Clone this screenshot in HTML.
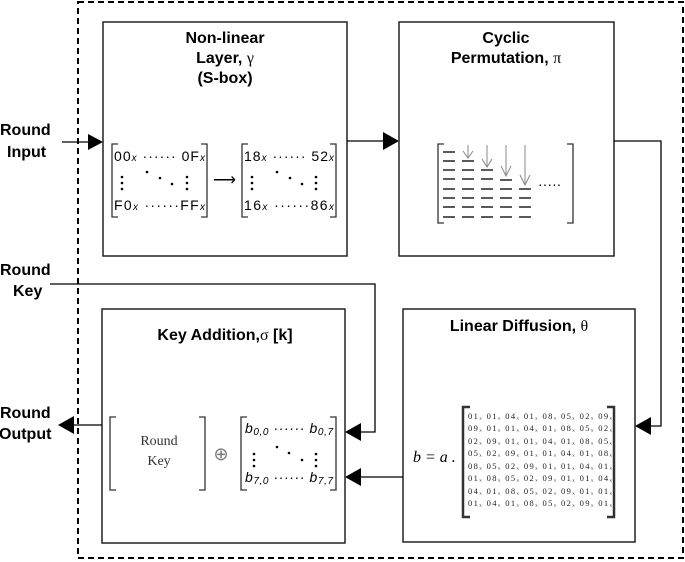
<!DOCTYPE html>
<html><head><style>body{margin:0;background:#fff}svg{display:block}
.t{font-family:"Liberation Sans",sans-serif;font-weight:bold;font-size:16px}
.s{font-family:"Liberation Serif",serif}
.m{font-family:"Liberation Sans",sans-serif;font-size:14px}
</style></head><body>
<svg width="685" height="562" viewBox="0 0 685 562" xmlns="http://www.w3.org/2000/svg">
<rect x="78" y="2" width="605" height="556" fill="none" stroke="#000" stroke-width="2" stroke-dasharray="6,4"/>
<g fill="none" stroke="#222" stroke-width="1.5">
<rect x="103" y="22" width="244" height="234"/>
<rect x="399" y="22" width="215" height="234"/>
<rect x="102" y="309" width="243" height="234"/>
<rect x="403" y="309" width="232" height="233"/>
</g>
<g stroke="#000" stroke-width="1.3" fill="none">
<line x1="62" y1="142" x2="90" y2="142"/>
<line x1="347" y1="141" x2="385" y2="141"/>
<polyline points="614,141 661,141 661,426 650,426"/>
<polyline points="50,284 375,284 375,432 360,432"/>
<line x1="403" y1="477" x2="360" y2="477"/>
<line x1="102" y1="425" x2="72" y2="425"/>
</g>
<g fill="#000">
<polygon points="88,134 103,142 88,150"/>
<polygon points="383,132 399,141 383,150"/>
<polygon points="651,417 635,426 651,435"/>
<polygon points="361,423 345,432 361,441"/>
<polygon points="361,468 345,477 361,486"/>
<polygon points="74,416 58,425 74,434"/>
</g>
<g class="t" text-anchor="middle">
<text x="225" y="43">Non-linear</text>
<text x="225" y="63">Layer, <tspan class="s" font-weight="normal">γ</tspan></text>
<text x="225" y="83">(S-box)</text>
<text x="506" y="43">Cyclic</text>
<text x="506" y="63">Permutation, <tspan class="s" font-weight="normal">π</tspan></text>
<text x="225" y="340">Key Addition,<tspan class="s" font-weight="normal">σ</tspan> [k]</text>
<text x="519" y="331">Linear Diffusion, <tspan class="s" font-weight="normal">θ</tspan></text>
</g>
<g class="t">
<text x="0" y="135">Round</text>
<text x="7" y="157">Input</text>
<text x="0" y="275">Round</text>
<text x="13" y="296">Key</text>
<text x="0" y="418">Round</text>
<text x="-1" y="439">Output</text>
</g>
<g fill="none" stroke="#333" stroke-width="1.3">
<polyline points="118,144 112,144 112,217 118,217"/><polyline points="201,144 207,144 207,217 201,217"/>
<polyline points="248,144 242,144 242,217 248,217"/><polyline points="330,144 336,144 336,217 330,217"/>
<polyline points="444,144 438,144 438,223 444,223"/><polyline points="567,144 573,144 573,223 567,223"/>
<polyline points="470,407 463,407 463,517 470,517" stroke-width="2.5"/><polyline points="607,407 614,407 614,517 607,517" stroke-width="2.5"/>
<polyline points="116,417 110,417 110,490 116,490"/><polyline points="199,417 205,417 205,490 199,490"/>
<polyline points="247,417 241,417 241,490 247,490"/><polyline points="330,417 336,417 336,490 330,490"/>
</g>
<g class="m">
<text x="114" y="161" textLength="91">00<tspan font-size="10" font-style="italic">x</tspan> ······ 0F<tspan font-size="10" font-style="italic">x</tspan></text>
<text x="114" y="210" textLength="91">F0<tspan font-size="10" font-style="italic">x</tspan> ······FF<tspan font-size="10" font-style="italic">x</tspan></text>
<text x="244" y="161" textLength="90">18<tspan font-size="10" font-style="italic">x</tspan> ······ 52<tspan font-size="10" font-style="italic">x</tspan></text>
<text x="244" y="210" textLength="90">16<tspan font-size="10" font-style="italic">x</tspan> ······86<tspan font-size="10" font-style="italic">x</tspan></text>
<text x="213" y="185" font-size="16">⟶</text>
<text x="538" y="189">·····</text>
</g>
<g fill="#000">
<circle cx="122" cy="177" r="1.3"/><circle cx="122" cy="183" r="1.3"/><circle cx="122" cy="189" r="1.3"/>
<circle cx="187" cy="177" r="1.3"/><circle cx="187" cy="183" r="1.3"/><circle cx="187" cy="189" r="1.3"/>
<circle cx="147" cy="172" r="1.3"/><circle cx="160" cy="178" r="1.3"/><circle cx="172" cy="184" r="1.3"/>
<circle cx="252" cy="177" r="1.3"/><circle cx="252" cy="183" r="1.3"/><circle cx="252" cy="189" r="1.3"/>
<circle cx="316" cy="177" r="1.3"/><circle cx="316" cy="183" r="1.3"/><circle cx="316" cy="189" r="1.3"/>
<circle cx="277" cy="172" r="1.3"/><circle cx="290" cy="178" r="1.3"/><circle cx="302" cy="184" r="1.3"/>
<circle cx="254" cy="454" r="1.3"/><circle cx="254" cy="460" r="1.3"/><circle cx="254" cy="466" r="1.3"/>
<circle cx="316" cy="454" r="1.3"/><circle cx="316" cy="460" r="1.3"/><circle cx="316" cy="466" r="1.3"/>
<circle cx="277" cy="447" r="1.3"/><circle cx="289" cy="453" r="1.3"/><circle cx="302" cy="460" r="1.3"/>
</g>
<g stroke="#000" stroke-width="1.3">
<line x1="443" y1="152" x2="455" y2="152"/>
<line x1="443" y1="161" x2="455" y2="161"/><line x1="443" y1="170" x2="455" y2="170"/><line x1="443" y1="179" x2="455" y2="179"/><line x1="443" y1="189" x2="455" y2="189"/><line x1="443" y1="198" x2="455" y2="198"/><line x1="443" y1="207" x2="455" y2="207"/><line x1="443" y1="217" x2="455" y2="217"/>
<line x1="462" y1="161" x2="474" y2="161"/><line x1="462" y1="170" x2="474" y2="170"/><line x1="462" y1="179" x2="474" y2="179"/><line x1="462" y1="189" x2="474" y2="189"/><line x1="462" y1="198" x2="474" y2="198"/><line x1="462" y1="207" x2="474" y2="207"/><line x1="462" y1="217" x2="474" y2="217"/>
<line x1="481" y1="170" x2="493" y2="170"/><line x1="481" y1="179" x2="493" y2="179"/><line x1="481" y1="189" x2="493" y2="189"/><line x1="481" y1="198" x2="493" y2="198"/><line x1="481" y1="207" x2="493" y2="207"/><line x1="481" y1="217" x2="493" y2="217"/>
<line x1="500" y1="180" x2="512" y2="180"/><line x1="500" y1="189" x2="512" y2="189"/><line x1="500" y1="198" x2="512" y2="198"/><line x1="500" y1="207" x2="512" y2="207"/><line x1="500" y1="217" x2="512" y2="217"/>
<line x1="519" y1="189" x2="531" y2="189"/><line x1="519" y1="198" x2="531" y2="198"/><line x1="519" y1="207" x2="531" y2="207"/><line x1="519" y1="217" x2="531" y2="217"/>
</g>
<g stroke="#888" stroke-width="1" fill="none">
<line x1="468" y1="145" x2="468" y2="158"/><polyline points="463,151 468,158 473,151"/>
<line x1="487" y1="145" x2="487" y2="167"/><polyline points="482,159 487,167 492,159"/>
<line x1="506" y1="145" x2="506" y2="176"/><polyline points="501,166 506,176 511,166"/>
<line x1="525" y1="145" x2="525" y2="185"/><polyline points="520,175 525,185 530,175"/>
</g>
<text x="413" y="462" class="s" font-style="italic" font-size="16">b = a .</text>
<g class="s" font-size="8.5" fill="#222">
<text x="468" y="419" textLength="144">01ₓ 01ₓ 04ₓ 01ₓ 08ₓ 05ₓ 02ₓ 09ₓ</text>
<text x="468" y="431" textLength="144">09ₓ 01ₓ 01ₓ 04ₓ 01ₓ 08ₓ 05ₓ 02ₓ</text>
<text x="468" y="444" textLength="144">02ₓ 09ₓ 01ₓ 01ₓ 04ₓ 01ₓ 08ₓ 05ₓ</text>
<text x="468" y="456" textLength="144">05ₓ 02ₓ 09ₓ 01ₓ 01ₓ 04ₓ 01ₓ 08ₓ</text>
<text x="468" y="469" textLength="144">08ₓ 05ₓ 02ₓ 09ₓ 01ₓ 01ₓ 04ₓ 01ₓ</text>
<text x="468" y="481" textLength="144">01ₓ 08ₓ 05ₓ 02ₓ 09ₓ 01ₓ 01ₓ 04ₓ</text>
<text x="468" y="494" textLength="144">04ₓ 01ₓ 08ₓ 05ₓ 02ₓ 09ₓ 01ₓ 01ₓ</text>
<text x="468" y="506" textLength="144">01ₓ 04ₓ 01ₓ 08ₓ 05ₓ 02ₓ 09ₓ 01ₓ</text>
</g>
<g class="s" font-size="14" fill="#333" text-anchor="middle">
<text x="159" y="445">Round</text><text x="159" y="465">Key</text>
<text x="221" y="460" font-size="18" fill="#777">⊕</text>
</g>
<g class="m" font-style="italic">
<text x="245" y="433" textLength="88">b<tspan font-size="10" dy="2">0,0</tspan><tspan dy="-2"> ······ b</tspan><tspan font-size="10" dy="2">0,7</tspan></text>
<text x="245" y="482" textLength="88">b<tspan font-size="10" dy="2">7,0</tspan><tspan dy="-2"> ······ b</tspan><tspan font-size="10" dy="2">7,7</tspan></text>
</g>
</svg>
</body></html>
